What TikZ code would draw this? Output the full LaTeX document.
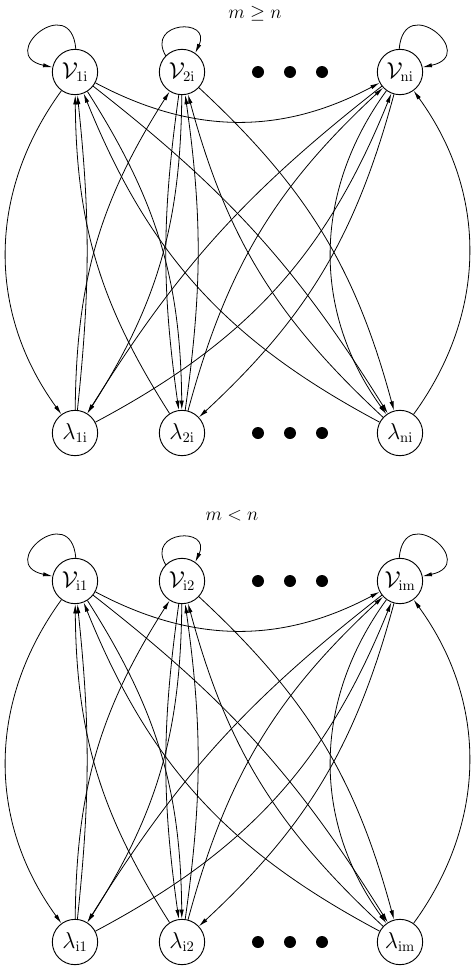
\documentclass[tikz,border=0pt]{standalone}
\usetikzlibrary{arrows.meta}
\tikzset{
  gnode/.style={circle,draw,line width=0.7pt,minimum size=34pt,inner sep=0pt,font=\fontsize{16}{18}\selectfont},
  arr/.style={-{Latex[length=7pt,width=3.2pt]},line width=0.6pt},
  bigdot/.style={circle,fill,minimum size=9pt,inner sep=0pt},
  ttl/.style={font=\fontsize{14}{16}\selectfont},
}
\newcommand{\halfgraph}[8]{%
  % #1 prefix, #2 y of v row (px, down), #3..#8 labels v1 v2 vn l1 l2 ln
  \node[gnode] (#1v1) at (75,{-#2}) {#3};
  \node[gnode] (#1v2) at (182,{-#2}) {#4};
  \node[gnode] (#1vn) at (400,{-#2}) {#5};
  \node[gnode] (#1l1) at (75,{-#2-361}) {#6};
  \node[gnode] (#1l2) at (182,{-#2-361}) {#7};
  \node[gnode] (#1ln) at (400,{-#2-361}) {#8};
  \node[bigdot] (#1da) at (258,{-#2}) {};
  \node[bigdot] (#1db) at (290,{-#2}) {};
  \node[bigdot] (#1dc) at (322,{-#2}) {};
  \node[bigdot] (#1ea) at (258,{-#2-361}) {};
  \node[bigdot] (#1eb) at (290,{-#2-361}) {};
  \node[bigdot] (#1ec) at (322,{-#2-361}) {};
  % self loops
  \draw[arr] (#1v1.88) to[out=95,in=168,looseness=5] (#1v1.168);
  \draw[arr] (#1v2.135) to[out=120,in=65,looseness=3.4] (#1v2.55);
  \draw[arr] (#1vn.92) to[out=85,in=12,looseness=5] (#1vn.12);
  % v1 -> vn
  \draw[arr] (#1v1) to[bend right=28] (#1vn);
  % bipartite edges
  \draw[arr] (#1v1) to[bend right=36] (#1l1);
  \draw[arr] (#1l1) to[bend right=6] (#1v1);
  \draw[arr] (#1v1) to[bend left=16] (#1l2);
  \draw[arr] (#1l2) to[bend left=16] (#1v1);
  \draw[arr] (#1v1) to[bend left=10] (#1ln);
  \draw[arr] (#1ln) to[bend left=20] (#1v1);
  \draw[arr] (#1v2) to[bend left=16] (#1l1);
  \draw[arr] (#1l1) to[bend left=16] (#1v2);
  \draw[arr] (#1v2) to[bend right=8] (#1l2);
  \draw[arr] (#1l2) to[bend right=8] (#1v2);
  \draw[arr] (#1v2) to[bend left=16] (#1ln);
  \draw[arr] (#1ln) to[bend left=16] (#1v2);
  \draw[arr] (#1vn) to[bend right=10] (#1l1);
  \draw[arr] (#1l1) to[bend right=20] (#1vn);
  \draw[arr] (#1vn) to[bend left=16] (#1l2);
  \draw[arr] (#1l2) to[bend left=16] (#1vn);
  \draw[arr] (#1vn) to[bend right=36] (#1ln);
  \draw[arr] (#1ln) to[bend right=36] (#1vn);
}
\begin{document}
\begin{tikzpicture}[x=0.75pt,y=0.75pt]
  \useasboundingbox (0,0) rectangle (474,-971);
  \node[ttl] (t1) at (255,-14) {$m \geq n$};
  \node[ttl] (t2) at (232,-516) {$m < n$};
  \halfgraph{a}{72}{$\mathcal{V}_{\mathrm{1i}}$}{$\mathcal{V}_{\mathrm{2i}}$}{$\mathcal{V}_{\mathrm{ni}}$}{$\lambda_{\mathrm{1i}}$}{$\lambda_{\mathrm{2i}}$}{$\lambda_{\mathrm{ni}}$}
  \halfgraph{b}{581}{$\mathcal{V}_{\mathrm{i1}}$}{$\mathcal{V}_{\mathrm{i2}}$}{$\mathcal{V}_{\mathrm{im}}$}{$\lambda_{\mathrm{i1}}$}{$\lambda_{\mathrm{i2}}$}{$\lambda_{\mathrm{im}}$}
\end{tikzpicture}
\end{document}
